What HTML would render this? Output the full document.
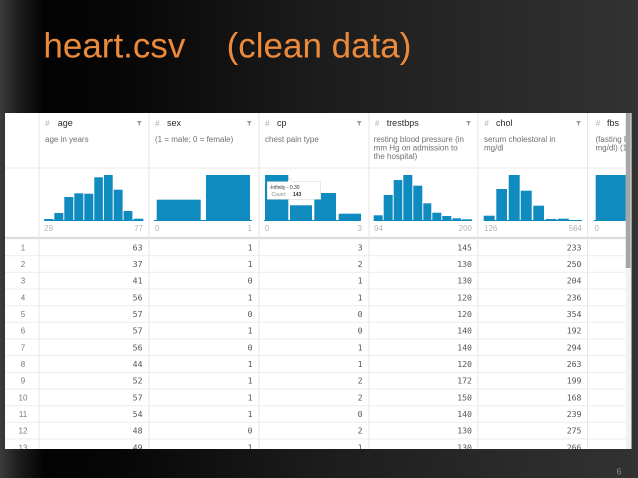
<!DOCTYPE html>
<html><head><meta charset="utf-8"><style>
html,body{margin:0;padding:0;background:#111;}
svg{display:block;}
</style></head><body>
<svg width="638" height="478" viewBox="0 0 638 478" xmlns="http://www.w3.org/2000/svg">
<defs>
<linearGradient id="bg" x1="0" y1="0" x2="1" y2="0">
<stop offset="0" stop-color="#3c3c3c"/>
<stop offset="0.03" stop-color="#1c1c1c"/>
<stop offset="0.07" stop-color="#030303"/>
<stop offset="0.18" stop-color="#060606"/>
<stop offset="0.5" stop-color="#1c1c1c"/>
<stop offset="0.8" stop-color="#2a2a2a"/>
<stop offset="1" stop-color="#323232"/>
</linearGradient>
<clipPath id="tbl"><rect x="5" y="113" width="626.7" height="336"/></clipPath>
</defs>
<rect x="0" y="0" width="638" height="478" fill="url(#bg)"/>

<!-- Title -->
<text x="43.4" y="57.3" font-family="Liberation Sans, Arial, sans-serif" font-size="35" fill="#ec8a3c">heart.csv</text>
<text x="226.6" y="57.3" font-family="Liberation Sans, Arial, sans-serif" font-size="35" fill="#ec8a3c">(clean data)</text>

<!-- page number -->
<text x="616.5" y="474.5" font-family="Liberation Sans, Arial, sans-serif" font-size="9" fill="#8a8a8a">6</text>

<g clip-path="url(#tbl)">
<rect x="5" y="113" width="626.7" height="336" fill="#ffffff"/>

<!-- horizontal lines -->
<rect x="5" y="167.5" width="621" height="1" fill="#e8e8e8"/>
<rect x="5" y="236.8" width="621" height="2.4" fill="#dcdcdc"/>
<g fill="#ececec">
<rect x="5" y="255.2" width="621" height="1"/>
<rect x="5" y="271.8" width="621" height="1"/>
<rect x="5" y="288.5" width="621" height="1"/>
<rect x="5" y="305.2" width="621" height="1"/>
<rect x="5" y="321.8" width="621" height="1"/>
<rect x="5" y="338.5" width="621" height="1"/>
<rect x="5" y="355.2" width="621" height="1"/>
<rect x="5" y="371.8" width="621" height="1"/>
<rect x="5" y="388.5" width="621" height="1"/>
<rect x="5" y="405.2" width="621" height="1"/>
<rect x="5" y="421.8" width="621" height="1"/>
<rect x="5" y="438.5" width="621" height="1"/>
</g>

<!-- vertical dividers -->
<g fill="#e6e6e6">
<rect x="38.5" y="113" width="1" height="336"/>
<rect x="148.5" y="113" width="1" height="336"/>
<rect x="258.5" y="113" width="1" height="336"/>
<rect x="368.5" y="113" width="1" height="336"/>
<rect x="477.5" y="113" width="1" height="336"/>
<rect x="587" y="113" width="1" height="336"/>
</g>

<!-- headers -->
<g font-family="Liberation Sans, Arial, sans-serif">
<g font-size="8" fill="#b0b0b0" font-style="italic">
<text x="45" y="126">#</text>
<text x="155" y="126">#</text>
<text x="265" y="126">#</text>
<text x="374.7" y="126">#</text>
<text x="484.3" y="126">#</text>
<text x="595.7" y="126">#</text>
</g>
<g font-size="9" fill="#2a2a2a">
<text x="57.7" y="126">age</text>
<text x="167" y="126">sex</text>
<text x="277" y="126">cp</text>
<text x="386.7" y="126">trestbps</text>
<text x="496" y="126">chol</text>
<text x="607" y="126">fbs</text>
</g>
<g font-size="8" fill="#707070">
<text x="45" y="142">age in years</text>
<text x="155" y="142">(1 = male; 0 = female)</text>
<text x="265" y="142">chest pain type</text>
<text x="373.7" y="142">resting blood pressure (in</text>
<text x="373.7" y="150.5">mm Hg on admission to</text>
<text x="373.7" y="159">the hospital)</text>
<text x="484" y="142">serum cholestoral in</text>
<text x="484" y="150.5">mg/dl</text>
<text x="595.5" y="142">(fasting blood sugar &gt; 120</text>
<text x="595.5" y="150.5">mg/dl) (1 = true; 0 = false)</text>
</g>
</g>

<!-- filter icons -->
<g fill="#9a9a9a">
<polygon points="136.8,121 141.8,121 139.9,123.4 139.9,125.6 138.7,125.6 138.7,123.4"/>
<polygon points="246.8,121 251.8,121 249.9,123.4 249.9,125.6 248.7,125.6 248.7,123.4"/>
<polygon points="356.8,121 361.8,121 359.9,123.4 359.9,125.6 358.7,125.6 358.7,123.4"/>
<polygon points="466,121 471,121 469.1,123.4 469.1,125.6 467.9,125.6 467.9,123.4"/>
<polygon points="576,121 581,121 579.1,123.4 579.1,125.6 577.9,125.6 577.9,123.4"/>
</g>

<!-- histograms -->
<g fill="#0f8bbf">
<!-- baselines -->
<rect x="44" y="220" width="99.3" height="1"/>
<rect x="154" y="220" width="98" height="1"/>
<rect x="264" y="220" width="97" height="1"/>
<rect x="373.7" y="220" width="98.3" height="1"/>
<rect x="483.7" y="220" width="98.3" height="1"/>
<rect x="593.7" y="220" width="33" height="1"/>
<!-- age -->
<rect x="44.3" y="219" width="9" height="2"/>
<rect x="54.3" y="213" width="9" height="8"/>
<rect x="64.3" y="197" width="9" height="24"/>
<rect x="74.3" y="193.3" width="9" height="27.7"/>
<rect x="84.3" y="193.7" width="9" height="27.3"/>
<rect x="94.3" y="177.3" width="8.6" height="43.7"/>
<rect x="103.9" y="175" width="8.8" height="46"/>
<rect x="113.7" y="189.7" width="8.9" height="31.3"/>
<rect x="123.6" y="211" width="8.8" height="10"/>
<rect x="133.4" y="218.7" width="9.9" height="2.3"/>
<!-- sex -->
<rect x="156.7" y="199.7" width="44" height="21.3"/>
<rect x="206" y="175" width="44" height="46"/>
<!-- cp -->
<rect x="265" y="175" width="23.3" height="46"/>
<rect x="290" y="205.3" width="22" height="15.7"/>
<rect x="314.3" y="193" width="21.7" height="28"/>
<rect x="338.7" y="213.7" width="22.3" height="7.3"/>
<!-- trestbps -->
<rect x="373.7" y="215.3" width="9" height="5.7"/>
<rect x="383.7" y="195" width="9" height="26"/>
<rect x="393.7" y="180" width="8.6" height="41"/>
<rect x="403.3" y="175" width="9" height="46"/>
<rect x="413.3" y="185.7" width="9" height="35.3"/>
<rect x="423.3" y="203.3" width="8" height="17.7"/>
<rect x="432.3" y="212.7" width="9" height="8.3"/>
<rect x="442.3" y="216" width="9" height="5"/>
<rect x="452.3" y="218.3" width="8.7" height="2.7"/>
<rect x="462" y="219.3" width="10" height="1.7"/>
<!-- chol -->
<rect x="483.7" y="215.7" width="11" height="5.3"/>
<rect x="496.3" y="189" width="10.7" height="32"/>
<rect x="508.7" y="175" width="11" height="46"/>
<rect x="520.7" y="190.7" width="11" height="30.3"/>
<rect x="533.3" y="205.7" width="10.7" height="15.3"/>
<rect x="545.5" y="219" width="11" height="2"/>
<rect x="557.8" y="218.7" width="11" height="2.3"/>
<rect x="570" y="220" width="11" height="1"/>
<!-- fbs -->
<rect x="595.7" y="175" width="31" height="46"/>
</g>

<!-- tooltip -->
<g>
<rect x="267.3" y="181.7" width="53.4" height="17.6" fill="#ffffff" stroke="#d8d8d8" stroke-width="0.6"/>
<polygon points="287.5,182 290,177.5 292.5,182" fill="#ffffff" stroke="#d8d8d8" stroke-width="0.5"/>
<rect x="287.8" y="181.4" width="4.4" height="1" fill="#ffffff"/>
<text x="269.3" y="188.8" font-family="Liberation Sans, Arial, sans-serif" font-size="5" fill="#333">-Infinity - 0.30</text>
<text x="271.5" y="195.8" font-family="Liberation Sans, Arial, sans-serif" font-size="5" fill="#888">Count:</text>
<text x="293" y="195.8" font-family="Liberation Sans, Arial, sans-serif" font-size="5" font-weight="bold" fill="#333">143</text>
</g>

<!-- tick labels -->
<g font-family="Liberation Sans, Arial, sans-serif" font-size="8" fill="#b4b4b4">
<text x="44" y="231">29</text>
<text x="143" y="231" text-anchor="end">77</text>
<text x="155" y="231">0</text>
<text x="252" y="231" text-anchor="end">1</text>
<text x="265" y="231">0</text>
<text x="362" y="231" text-anchor="end">3</text>
<text x="374" y="231">94</text>
<text x="472" y="231" text-anchor="end">200</text>
<text x="484" y="231">126</text>
<text x="582" y="231" text-anchor="end">564</text>
<text x="594.5" y="231">0</text>
</g>

<!-- row numbers -->
<g font-family="Liberation Sans, Arial, sans-serif" font-size="8" fill="#787878" text-anchor="middle">
<text x="23" y="250.3">1</text>
<text x="23" y="267">2</text>
<text x="23" y="283.7">3</text>
<text x="23" y="300.3">4</text>
<text x="23" y="317">5</text>
<text x="23" y="333.7">6</text>
<text x="23" y="350.3">7</text>
<text x="23" y="367">8</text>
<text x="23" y="383.7">9</text>
<text x="23" y="400.3">10</text>
<text x="23" y="417">11</text>
<text x="23" y="433.7">12</text>
<text x="23" y="450.3">13</text>
</g>

<!-- data values -->
<g font-family="DejaVu Sans Mono, Liberation Mono, monospace" font-size="8.2" fill="#555" text-anchor="end">
<text x="142.5" y="250.3">63</text><text x="252.5" y="250.3">1</text><text x="362.5" y="250.3">3</text><text x="472" y="250.3">145</text><text x="581.5" y="250.3">233</text>
<text x="142.5" y="267">37</text><text x="252.5" y="267">1</text><text x="362.5" y="267">2</text><text x="472" y="267">130</text><text x="581.5" y="267">250</text>
<text x="142.5" y="283.7">41</text><text x="252.5" y="283.7">0</text><text x="362.5" y="283.7">1</text><text x="472" y="283.7">130</text><text x="581.5" y="283.7">204</text>
<text x="142.5" y="300.3">56</text><text x="252.5" y="300.3">1</text><text x="362.5" y="300.3">1</text><text x="472" y="300.3">120</text><text x="581.5" y="300.3">236</text>
<text x="142.5" y="317">57</text><text x="252.5" y="317">0</text><text x="362.5" y="317">0</text><text x="472" y="317">120</text><text x="581.5" y="317">354</text>
<text x="142.5" y="333.7">57</text><text x="252.5" y="333.7">1</text><text x="362.5" y="333.7">0</text><text x="472" y="333.7">140</text><text x="581.5" y="333.7">192</text>
<text x="142.5" y="350.3">56</text><text x="252.5" y="350.3">0</text><text x="362.5" y="350.3">1</text><text x="472" y="350.3">140</text><text x="581.5" y="350.3">294</text>
<text x="142.5" y="367">44</text><text x="252.5" y="367">1</text><text x="362.5" y="367">1</text><text x="472" y="367">120</text><text x="581.5" y="367">263</text>
<text x="142.5" y="383.7">52</text><text x="252.5" y="383.7">1</text><text x="362.5" y="383.7">2</text><text x="472" y="383.7">172</text><text x="581.5" y="383.7">199</text>
<text x="142.5" y="400.3">57</text><text x="252.5" y="400.3">1</text><text x="362.5" y="400.3">2</text><text x="472" y="400.3">150</text><text x="581.5" y="400.3">168</text>
<text x="142.5" y="417">54</text><text x="252.5" y="417">1</text><text x="362.5" y="417">0</text><text x="472" y="417">140</text><text x="581.5" y="417">239</text>
<text x="142.5" y="433.7">48</text><text x="252.5" y="433.7">0</text><text x="362.5" y="433.7">2</text><text x="472" y="433.7">130</text><text x="581.5" y="433.7">275</text>
<text x="142.5" y="450.3">49</text><text x="252.5" y="450.3">1</text><text x="362.5" y="450.3">1</text><text x="472" y="450.3">130</text><text x="581.5" y="450.3">266</text>
</g>

<!-- scrollbar -->
<rect x="625.8" y="113" width="5.9" height="336" fill="#f1f1f1"/>
<rect x="625.8" y="113" width="4.8" height="155" fill="#a6a6a6"/>
<rect x="630.9" y="113" width="0.8" height="336" fill="#bdbdbd"/>
</g>
</svg>
</body></html>
